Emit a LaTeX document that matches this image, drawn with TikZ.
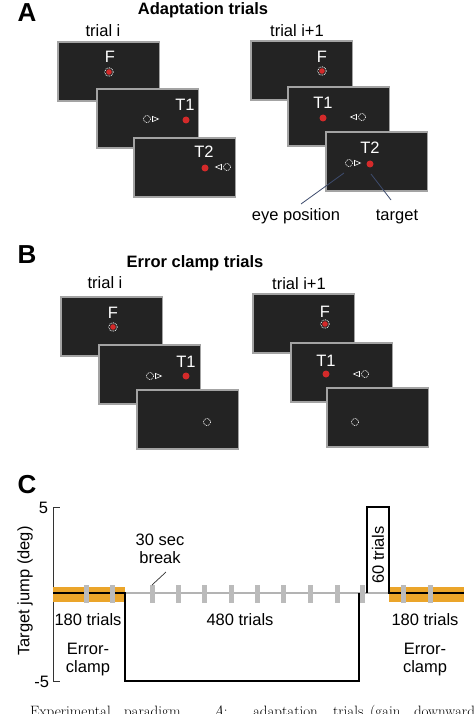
\documentclass[tikz,border=0pt]{standalone}
\usepackage{fontspec}
\setsansfont{Liberation Sans}
\definecolor{scrfill}{HTML}{232323}
\definecolor{scrborder}{HTML}{A3A3A3}
\definecolor{dotred}{HTML}{D42A2A}
\definecolor{leadc}{HTML}{3E4C6E}
\definecolor{bandc}{HTML}{EBA52A}
\definecolor{blockc}{HTML}{BBBBBB}
\definecolor{zeroc}{HTML}{B3B3B3}
\tikzset{
  every node/.style={font=\sffamily\fontsize{16.5}{18}\selectfont, inner sep=0pt, outer sep=0pt},
  panel/.style={font=\sffamily\bfseries\fontsize{26}{28}\selectfont, anchor=base},
  ptitle/.style={font=\sffamily\bfseries\fontsize{16.5}{18}\selectfont, anchor=base},
  lab/.style={anchor=base},
  screen/.style={draw=scrborder, fill=scrfill, line width=1.4pt, minimum width=101.6pt, minimum height=59pt, anchor=north west},
  scrtext/.style={text=white, anchor=base},
  reddot/.style={circle, fill=dotred, minimum size=7pt},
  eyec/.style={draw=white, line width=0.7pt, dash pattern=on 0.9pt off 0.9pt},
  eyet/.style={draw=white, line width=0.6pt},
  leader/.style={draw=leadc, line width=0.8pt},
  stepline/.style={draw=black, line width=1.6pt},
  zeroline/.style={draw=zeroc, line width=1.2pt},
  gblock/.style={fill=blockc, minimum width=5pt, minimum height=18pt},
  axisline/.style={draw=black!80, line width=0.8pt},
  capword/.style={anchor=base west, font=\rmfamily\fontsize{15}{17}\selectfont},
}
\newcommand{\eyeright}[3]{%
  \draw[eyec] (#2,#3) circle (3.6);
  \draw[eyet] (#2+5.5,#3-2.6) -- (#2+11.5,#3) -- (#2+5.5,#3+2.6) -- cycle;
  \coordinate (#1) at (#2,#3);}
\newcommand{\eyeleft}[3]{%
  \draw[eyec] (#2,#3) circle (3.6);
  \draw[eyet] (#2-5.5,#3-2.6) -- (#2-11.5,#3) -- (#2-5.5,#3+2.6) -- cycle;
  \coordinate (#1) at (#2,#3);}
\newcommand{\fixdot}[3]{%
  \node[reddot, minimum size=5.6pt] (#1) at (#2,#3) {};
  \draw[eyec] (#2,#3) circle (4.3);}
\begin{document}
\begin{tikzpicture}[x=1pt,y=-1pt]
\useasboundingbox[fill=white] (0,0) rectangle (474,714);

% ---------------- Panel A ----------------
\node[panel] (pA) at (27,22) {A};
\node[ptitle] (tA) at (203,15) {Adaptation trials};
\node[lab] (tAi) at (103,37) {trial i};
\node[lab] (tAj) at (297,37) {trial i+1};

\node[screen] (a1) at (58,42) {};
\node[scrtext] (a1F) at (110,63) {F};
\fixdot{a1d}{109}{72}
\node[screen] (a2) at (97,89) {};
\node[scrtext] (a2T) at (185,111) {T1};
\node[reddot] (a2d) at (186,120) {};
\eyeright{a2e}{147}{119}
\node[screen] (a3) at (134,138) {};
\node[scrtext] (a3T) at (204,158) {T2};
\node[reddot] (a3d) at (205,168) {};
\eyeleft{a3e}{227}{167}

\node[screen] (b1) at (251,41) {};
\node[scrtext] (b1F) at (322,63) {F};
\fixdot{b1d}{322}{71}
\node[screen] (b2) at (288,87) {};
\node[scrtext] (b2T) at (323,109) {T1};
\node[reddot] (b2d) at (323,118) {};
\eyeleft{b2e}{362}{117}
\node[screen] (b3) at (326,132) {};
\node[scrtext] (b3T) at (370,154) {T2};
\node[reddot] (b3d) at (370,164) {};
\eyeright{b3e}{349}{163}

\node[lab] (eyelab) at (296,220) {eye position};
\node[lab] (tgtlab) at (397,220) {target};
\coordinate (eyeS) at (301,204);
\coordinate (eyeE) at (344,173);
\coordinate (tgtS) at (391,200);
\coordinate (tgtE) at (371,174);
\draw[leader] (eyeS) -- (eyeE);
\draw[leader] (tgtS) -- (tgtE);

% ---------------- Panel B ----------------
\node[panel] (pB) at (27,263) {B};
\node[ptitle] (tB) at (195,267) {Error clamp trials};
\node[lab] (tBi) at (105,288) {trial i};
\node[lab] (tBj) at (299,289) {trial i+1};

\node[screen] (c1) at (61,297) {};
\node[scrtext] (c1F) at (113,318) {F};
\fixdot{c1d}{113}{327}
\node[screen] (c2) at (99,345) {};
\node[scrtext] (c2T) at (186,367) {T1};
\node[reddot] (c2d) at (186,376) {};
\eyeright{c2e}{150}{376}
\node[screen] (c3) at (137,390) {};
\draw[eyec] (207,422) circle (3.6);
\coordinate (c3e) at (207,422);

\node[screen] (d1) at (253,294) {};
\node[scrtext] (d1F) at (325,317) {F};
\fixdot{d1d}{325}{324}
\node[screen] (d2) at (291,343) {};
\node[scrtext] (d2T) at (326,366) {T1};
\node[reddot] (d2d) at (326,374) {};
\eyeleft{d2e}{365}{374}
\node[screen] (d3) at (327,388) {};
\draw[eyec] (355,422) circle (3.6);
\coordinate (d3e) at (355,422);

% ---------------- Panel C ----------------
\node[panel] (pC) at (27,493) {C};
\draw[axisline] (53,507) -- (53,681);
\draw[axisline] (53,507) -- (60,507);
\draw[axisline] (53,681) -- (60,681);
\node[anchor=east] (y5) at (48,508) {5};
\node[anchor=east] (ym5) at (49,682) {-5};
\node[rotate=90] (ylab) at (25,591) {Target jump (deg)};

\draw[zeroline] (53,593) -- (464,593);
\fill[bandc] (53,587) rectangle (125,602);
\fill[bandc] (389,587) rectangle (464,602);
\draw[stepline] (53,593) -- (125,593) -- (125,681) -- (359,681) -- (359,593);
\draw[stepline] (367,593) -- (367,507) -- (389,507) -- (389,593) -- (464,593);
\foreach \x [count=\i] in {86,112,152,178,204,231,257,283,310,337,362,403,430}
  \node[gblock] (blk\i) at (\x,594) {};

\node[align=center, font=\sffamily\fontsize{16.5}{18.5}\selectfont] (brk) at (160,549) {30 sec\\break};
\coordinate (brkS) at (166,572);
\draw[draw=black!80, line width=0.7pt] (brkS) -- (blk3.north);

\node[lab] (l180) at (88,625) {180 trials};
\node[lab] (l480) at (240,625) {480 trials};
\node[lab] (r180) at (425,625) {180 trials};
\node[align=center, font=\sffamily\fontsize{16.5}{18}\selectfont] (lerr) at (88,660) {Error-\\clamp};
\node[align=center, font=\sffamily\fontsize{16.5}{18}\selectfont] (rerr) at (425,660) {Error-\\clamp};
\node[rotate=90] (sixty) at (378,555) {60 trials};

% ---------------- caption (cut off at the bottom edge, as in the reference) ----------------
\begin{scope}
\clip (0,0) rectangle (474,714);
\node[capword] (cap1) at (-4,716) {1.};
\node[capword] (cap2) at (30,716) {Experimental};
\node[capword] (cap3) at (124,716) {paradigm.};
\node[capword] (cap4) at (213,716) {\textit{A}:};
\node[capword] (cap5) at (253,716) {adaptation};
\node[capword] (cap6) at (333,716) {trials};
\node[capword] (cap7) at (370,716) {(gain};
\node[capword] (cap8) at (414,716) {downward)};
\end{scope}
\end{tikzpicture}
\end{document}
